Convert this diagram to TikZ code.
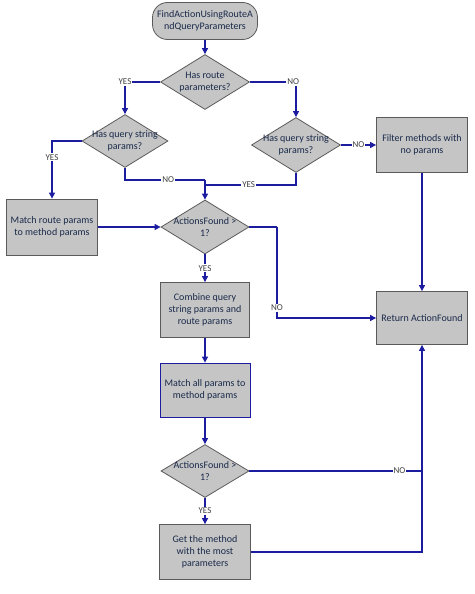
\documentclass[tikz,border=0pt]{standalone}
\usepackage{fontspec}
\setmainfont{Carlito}
\usetikzlibrary{shapes.geometric,arrows.meta}
\definecolor{boxfill}{HTML}{C5C5C5}
\definecolor{boxline}{HTML}{5A5A5A}
\definecolor{flow}{HTML}{1C1CA0}
\definecolor{txt}{HTML}{1A2A4A}
\begin{document}
\begin{tikzpicture}[x=1pt,y=-1pt,
  txtfont/.style={font=\fontsize{10}{12}\selectfont},
  proc/.style={draw=boxline,fill=boxfill,line width=0.8pt,minimum width=91pt,minimum height=55pt,inner sep=0pt,align=center,text=txt,txtfont},
  dec/.style={draw=boxline,fill=boxfill,line width=0.8pt,diamond,minimum width=88pt,minimum height=54pt,inner sep=0pt},
  dectext/.style={align=center,text=txt,inner sep=0pt,txtfont},
  flowline/.style={draw=flow,line width=1.1pt},
  arr/.style={flowline,-{Triangle[length=6pt,width=6pt]}},
  lab/.style={fill=white,inner sep=1pt,text=black!75,font=\fontsize{9}{10}\selectfont}
]
\useasboundingbox (0,0) rectangle (474,594);

% nodes
\node[proc,rounded corners=15pt,minimum width=105pt,minimum height=37pt] (start) at (205,21) {FindActionUsingRouteA\\ndQueryParameters};
\node[dec,minimum width=89pt,minimum height=55pt] (d1) at (205,82) {};
\node[dectext] (d1t) at (d1) {Has route\\parameters?};
\node[dec,minimum width=86pt,minimum height=53pt] (d2) at (125,141) {};
\node[dectext] (d2t) at (d2) {Has query string\\params?};
\node[dec,minimum width=89pt,minimum height=55pt] (d4) at (296,145) {};
\node[dectext] (d4t) at (d4) {Has query string\\params?};
\node[proc] (filter) at (422,145) {Filter methods with\\no params};
\node[proc,minimum height=56pt] (mroute) at (52,227) {Match route params\\to method params};
\node[dec] (d3) at (205,227) {};
\node[dectext] (d3t) at (d3) {ActionsFound >\\1?};
\node[proc,minimum height=53pt] (ret) at (422,318) {Return ActionFound};
\node[proc,minimum width=89pt] (comb) at (205,310) {Combine query\\string params and\\route params};
\node[proc,draw=flow,minimum width=90pt,minimum height=54pt] (mall) at (205,390) {Match all params to\\method params};
\node[dec,minimum height=53pt] (d5) at (205,471) {};
\node[dectext] (d5t) at (d5) {ActionsFound >\\1?};
\node[proc] (get) at (205,552) {Get the method\\with the most\\parameters};

\coordinate (j1) at (205,180);
\coordinate (j2) at (205,185);
\coordinate (c1) at (277,227);

% connectors
\draw[arr] (start) -- (d1);
\draw[arr] (d1.west) -| node[lab,pos=0.5]{YES} (d2.north);
\draw[arr] (d1.east) -| node[lab,pos=0.47]{NO} (d4.north);
\draw[arr] (d2.west) -| node[lab,pos=0.64]{YES} (mroute.north);
\draw[flowline] (d2.south) |- node[lab,pos=0.77]{NO} (j1);
\draw[arr] (j1) -- (d3.north);
\draw[flowline] (d4.south) |- node[lab,pos=0.76]{YES} (j2);
\draw[arr] (d4.east) -- node[lab]{NO} (filter.west);
\draw[arr] (filter) -- (ret);
\draw[arr] (mroute.east) -- (d3.west);
\draw[flowline] (d3.east) -- (c1);
\draw[arr] (c1) |- node[lab,pos=0.445]{NO} (ret.west);
\draw[arr] (d3.south) -- node[lab,pos=0.5]{YES} (comb.north);
\draw[arr] (comb) -- (mall);
\draw[arr] (mall) -- (d5);
\draw[arr] (d5.south) -- node[lab]{YES} (get.north);
\draw[arr] (get.east) -| (ret.south);
\draw[flowline] (d5.east) -- node[lab,pos=0.87]{NO} (d5.east -| ret.south);
\end{tikzpicture}
\end{document}
